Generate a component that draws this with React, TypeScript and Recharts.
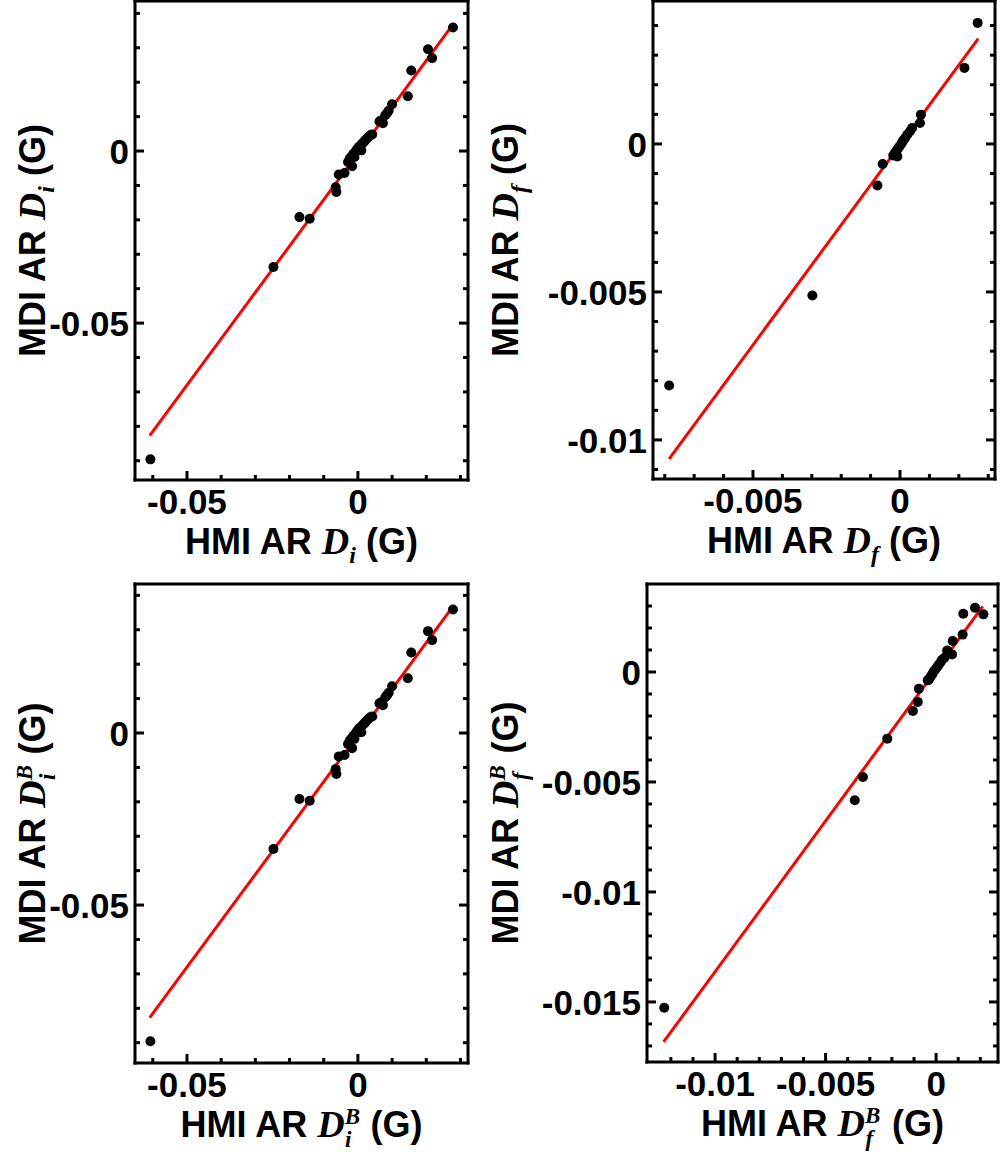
import React from 'react';
import { ScatterChart, Scatter, XAxis, YAxis, ReferenceLine } from 'recharts';

const SANS = '"Liberation Sans", Arial, Helvetica, sans-serif';
const SERIF = '"Liberation Serif", "Times New Roman", serif';

// ---------- D_i : HMI vs MDI ----------
const diHmi = [
  -0.0607, -0.0247, -0.0171, -0.0141, -0.0065, -0.0063, -0.0056, -0.0039, -0.0017,
  -0.0029, -0.0024, -0.0019, -0.0013, -0.0007, -0.0003, 0.0003, 0.0008, 0.0014,
  0.0019, 0.0023, 0.0029, 0.0036, 0.0042, 0.001, -0.001, 0.0063, 0.0068, 0.0073,
  0.008, 0.0085, 0.009, 0.01, 0.0146, 0.0156, 0.0205, 0.0217, 0.0278,
];
const diMdi = [
  -0.0896, -0.0337, -0.0192, -0.0197, -0.0105, -0.0119, -0.0068, -0.0064, -0.0044,
  -0.0032, -0.0022, -0.0016, -0.0008, -0.0002, 0.0005, 0.0012, 0.0017, 0.0023,
  0.0028, 0.0033, 0.0039, 0.0046, 0.0048, 0.0002, -0.0017, 0.0086, 0.0089, 0.0081,
  0.0104, 0.011, 0.0117, 0.0136, 0.0159, 0.0234, 0.0296, 0.027, 0.0359,
];
const diFitHmi = [-0.0609, 0.0276];
const diFitMdi = [-0.0827, 0.0365];
const diXDomain = [-0.0652, 0.0322];
const diYDomain = [-0.0956, 0.0436];

// ---------- D_f : HMI vs MDI ----------
const dfHmi = [
  -0.00785, -0.00298, -0.00077, -0.00059, -0.00023, -0.00017, -0.00011, -0.00006, 0.0,
  0.00006, 0.00011, 0.00018, 0.00025, 0.00034, 0.00041, -0.00009, 0.00068, 0.00071,
  0.00219, 0.00264,
];
const dfMdi = [
  -0.00816, -0.00512, -0.0014, -0.00068, -0.00039, -0.0003, -0.00021, -0.00014, -0.00006,
  0.00003, 0.00012, 0.00021, 0.00032, 0.00043, 0.00054, -0.00042, 0.00071, 0.00099,
  0.00257, 0.00409,
];
const dfFitHmi = [-0.00785, 0.00266];
const dfFitMdi = [-0.01064, 0.00356];
const dfXDomain = [-0.0084, 0.00323];
const dfYDomain = [-0.01132, 0.00483];

// ---------- D_i^B : HMI vs MDI ----------
const dibHmi = [
  -0.0607, -0.0247, -0.0171, -0.0141, -0.0065, -0.0063, -0.0056, -0.0039, -0.0017,
  -0.0029, -0.0024, -0.0019, -0.0013, -0.0007, -0.0003, 0.0003, 0.0008, 0.0014,
  0.0019, 0.0023, 0.0029, 0.0036, 0.0042, 0.001, -0.001, 0.0063, 0.0068, 0.0073,
  0.008, 0.0085, 0.009, 0.01, 0.0146, 0.0156, 0.0205, 0.0217, 0.0278,
];
const dibMdi = [
  -0.0896, -0.0337, -0.0192, -0.0197, -0.0105, -0.0119, -0.0068, -0.0064, -0.0044,
  -0.0032, -0.0022, -0.0016, -0.0008, -0.0002, 0.0005, 0.0012, 0.0017, 0.0023,
  0.0028, 0.0033, 0.0039, 0.0046, 0.0048, 0.0002, -0.0017, 0.0086, 0.0089, 0.0081,
  0.0104, 0.011, 0.0117, 0.0136, 0.0159, 0.0234, 0.0296, 0.027, 0.0359,
];
const dibFitHmi = [-0.0609, 0.0276];
const dibFitMdi = [-0.0827, 0.0365];
const dibXDomain = [-0.0652, 0.0322];
const dibYDomain = [-0.0959, 0.0433];

// ---------- D_f^B : HMI vs MDI ----------
const dfbHmi = [
  -0.0123, -0.00368, -0.00331, -0.00221, -0.00105, -0.00083, -0.00078, -0.00038, -0.00033,
  -0.00026, -0.00018, -0.00011, -0.00003, 0.00005, 0.00012, 0.0002, 0.00027, 0.00038,
  0.0005, 0.00072, 0.00075, 0.0012, 0.00123, 0.00176, 0.00214,
];
const dfbMdi = [
  -0.01526, -0.00583, -0.00477, -0.00303, -0.00177, -0.00136, -0.00076, -0.00038, -0.00035,
  -0.00023, -0.00011, 0.00002, 0.00012, 0.00023, 0.00033, 0.00044, 0.00056, 0.00065,
  0.00098, 0.0008, 0.00141, 0.0017, 0.00265, 0.00292, 0.00262,
];
const dfbFitHmi = [-0.01233, 0.00211];
const dfbFitMdi = [-0.01682, 0.00298];
const dfbXDomain = [-0.01308, 0.0028];
const dfbYDomain = [-0.01773, 0.004];

// ---------- tick marks ----------
const wideXTicks = [-0.06, -0.05, -0.04, -0.03, -0.02, -0.01, 0, 0.01, 0.02, 0.03];
const wideXMajor = [-0.05, 0];
const wideXLabels = ['-0.05', '0'];
const wideYTicks = [-0.09, -0.08, -0.07, -0.06, -0.05, -0.04, -0.03, -0.02, -0.01, 0, 0.01, 0.02, 0.03, 0.04];
const wideYMajor = [-0.05, 0];
const wideYLabels = ['-0.05', '0'];

const dfXTicks = [-0.008, -0.007, -0.006, -0.005, -0.004, -0.003, -0.002, -0.001, 0, 0.001, 0.002, 0.003];
const dfXMajor = [-0.005, 0];
const dfXLabels = ['-0.005', '0'];
const dfYTicks = [-0.011, -0.01, -0.009, -0.008, -0.007, -0.006, -0.005, -0.004, -0.003, -0.002, -0.001, 0, 0.001, 0.002, 0.003, 0.004];
const dfYMajor = [-0.01, -0.005, 0];
const dfYLabels = ['-0.01', '-0.005', '0'];

const dfbXTicks = [-0.012, -0.011, -0.01, -0.009, -0.008, -0.007, -0.006, -0.005, -0.004, -0.003, -0.002, -0.001, 0, 0.001, 0.002];
const dfbXMajor = [-0.01, -0.005, 0];
const dfbXLabels = ['-0.01', '-0.005', '0'];
const dfbYTicks = [-0.017, -0.016, -0.015, -0.014, -0.013, -0.012, -0.011, -0.01, -0.009, -0.008, -0.007, -0.006, -0.005, -0.004, -0.003, -0.002, -0.001, 0, 0.001, 0.002, 0.003];
const dfbYMajor = [-0.015, -0.01, -0.005, 0];
const dfbYLabels = ['-0.015', '-0.01', '-0.005', '0'];

// ---------- drawing helpers ----------
const MAJOR_LEN = 9;
const MINOR_LEN = 5;
const TICK_FONT = 35;
// every axis band is 1px thick; the frame line sits on the plot edge
const BAND = 1;

type Side = 'bottom' | 'top' | 'left' | 'right';

function makeTick(side: Side, majors: number[] = [], labels: string[] = []) {
  return (props: any) => {
    const { x, y, payload } = props;
    const i = majors.indexOf(payload.value);
    const len = i >= 0 ? MAJOR_LEN : MINOR_LEN;
    let line;
    let label = null;
    if (side === 'bottom') {
      line = <line x1={x} x2={x} y1={y} y2={y - len} stroke="#000" strokeWidth={3} />;
      if (i >= 0)
        label = (
          <text x={x} y={y + 34} textAnchor="middle" fontFamily={SANS} fontWeight="bold" fontSize={TICK_FONT} fill="#000">
            {labels[i]}
          </text>
        );
    } else if (side === 'top') {
      line = <line x1={x} x2={x} y1={y} y2={y + len} stroke="#000" strokeWidth={3} />;
    } else if (side === 'left') {
      line = <line x1={x} x2={x + len} y1={y} y2={y} stroke="#000" strokeWidth={3} />;
      if (i >= 0)
        label = (
          <text x={x - 6} y={y} dy="0.36em" textAnchor="end" fontFamily={SANS} fontWeight="bold" fontSize={TICK_FONT} fill="#000">
            {labels[i]}
          </text>
        );
    } else {
      line = <line x1={x} x2={x - len} y1={y} y2={y} stroke="#000" strokeWidth={3} />;
    }
    return (
      <g>
        {line}
        {label}
      </g>
    );
  };
}

type Sym = { sub: string; sup?: string };

function AxisTitle({ x, y, rotate, who, sym }: { x: number; y: number; rotate?: boolean; who: string; sym: Sym }) {
  const transform = rotate ? `rotate(-90 ${x} ${y})` : undefined;
  const italic = { fontFamily: SERIF, fontStyle: 'italic' as const, fontWeight: 'bold' as const };
  return (
    <text x={x} y={y} transform={transform} textAnchor="middle" fill="#000" fontFamily={SANS} fontWeight="bold" fontSize={36}>
      <tspan>{who + ' AR '}</tspan>
      <tspan {...italic} fontSize={38}>D</tspan>
      {sym.sup ? (
        <>
          <tspan {...italic} fontSize={23} dy={-13}>{sym.sup}</tspan>
          <tspan {...italic} fontSize={23} dx={-15} dy={23}>{sym.sub}</tspan>
          <tspan dx={9} dy={-10}>{' (G)'}</tspan>
        </>
      ) : (
        <>
          <tspan {...italic} fontSize={24} dy={9}>{sym.sub}</tspan>
          <tspan dy={-9}>{' (G)'}</tspan>
        </>
      )}
    </text>
  );
}

function XTitle(props: any) {
  const vb = props.viewBox || {};
  return <AxisTitle x={vb.x + vb.width / 2} y={vb.y + 74} who="HMI" sym={props.sym} />;
}

function YTitle(props: any) {
  const vb = props.viewBox || {};
  return <AxisTitle x={vb.x + vb.width - props.gap} y={vb.y + vb.height / 2} rotate who="MDI" sym={props.sym} />;
}

type PanelProps = {
  left: number;
  top: number;
  width: number;
  height: number;
  plot: { top: number; right: number; bottom: number; left: number };
  hmi: number[];
  mdi: number[];
  fitHmi: number[];
  fitMdi: number[];
  xDomain: number[];
  yDomain: number[];
  xTicks: number[];
  xMajor: number[];
  xLabels: string[];
  yTicks: number[];
  yMajor: number[];
  yLabels: string[];
  sym: Sym;
  yTitleGap: number;
};

const frame = { stroke: '#000', strokeWidth: 3, strokeLinecap: 'square' as const };

function Panel(p: PanelProps) {
  const points = p.hmi.map((v, i) => ({ x: v, y: p.mdi[i] }));
  const margin = {
    top: p.plot.top - BAND,
    right: p.plot.right - BAND,
    bottom: p.plot.bottom - BAND,
    left: p.plot.left - BAND,
  };
  return (
    <div style={{ position: 'absolute', left: p.left, top: p.top }}>
      <ScatterChart width={p.width} height={p.height} margin={margin}>
        <XAxis
          type="number"
          dataKey="x"
          domain={p.xDomain}
          allowDataOverflow
          ticks={p.xTicks}
          interval={0}
          height={BAND}
          tickSize={0}
          tickMargin={0}
          tickLine={false}
          axisLine={frame}
          tick={makeTick('bottom', p.xMajor, p.xLabels)}
          label={<XTitle sym={p.sym} />}
        />
        <XAxis
          xAxisId="top"
          orientation="top"
          type="number"
          domain={p.xDomain}
          allowDataOverflow
          ticks={p.xTicks}
          interval={0}
          height={BAND}
          tickSize={0}
          tickMargin={0}
          tickLine={false}
          axisLine={frame}
          tick={makeTick('top', p.xMajor)}
        />
        <YAxis
          type="number"
          dataKey="y"
          domain={p.yDomain}
          allowDataOverflow
          ticks={p.yTicks}
          interval={0}
          width={BAND}
          tickSize={0}
          tickMargin={0}
          tickLine={false}
          axisLine={frame}
          tick={makeTick('left', p.yMajor, p.yLabels)}
          label={<YTitle sym={p.sym} gap={p.yTitleGap} />}
        />
        <YAxis
          yAxisId="right"
          orientation="right"
          type="number"
          domain={p.yDomain}
          allowDataOverflow
          ticks={p.yTicks}
          interval={0}
          width={BAND}
          tickSize={0}
          tickMargin={0}
          tickLine={false}
          axisLine={frame}
          tick={makeTick('right', p.yMajor)}
        />
        <Scatter
          data={points}
          isAnimationActive={false}
          shape={(s: any) => <circle cx={s.cx} cy={s.cy} r={5} fill="#000" />}
        />
        <ReferenceLine
          segment={[
            { x: p.fitHmi[0], y: p.fitMdi[0] },
            { x: p.fitHmi[1], y: p.fitMdi[1] },
          ]}
          stroke="#ff0000"
          strokeWidth={3}
          ifOverflow="visible"
        />
      </ScatterChart>
    </div>
  );
}

export default function App() {
  return (
    <div style={{ position: 'absolute', left: 0, top: 0, width: 1002, height: 1154, background: '#fff' }}>
      <Panel
        left={0}
        top={0}
        width={480}
        height={577}
        plot={{ top: 1, right: 12, bottom: 97, left: 135 }}
        hmi={diHmi}
        mdi={diMdi}
        fitHmi={diFitHmi}
        fitMdi={diFitMdi}
        xDomain={diXDomain}
        yDomain={diYDomain}
        xTicks={wideXTicks}
        xMajor={wideXMajor}
        xLabels={wideXLabels}
        yTicks={wideYTicks}
        yMajor={wideYMajor}
        yLabels={wideYLabels}
        sym={{ sub: 'i' }}
        yTitleGap={90}
      />
      <Panel
        left={480}
        top={0}
        width={522}
        height={577}
        plot={{ top: 1, right: 7, bottom: 98, left: 173 }}
        hmi={dfHmi}
        mdi={dfMdi}
        fitHmi={dfFitHmi}
        fitMdi={dfFitMdi}
        xDomain={dfXDomain}
        yDomain={dfYDomain}
        xTicks={dfXTicks}
        xMajor={dfXMajor}
        xLabels={dfXLabels}
        yTicks={dfYTicks}
        yMajor={dfYMajor}
        yLabels={dfYLabels}
        sym={{ sub: 'f' }}
        yTitleGap={135}
      />
      <Panel
        left={0}
        top={577}
        width={480}
        height={577}
        plot={{ top: 7, right: 12, bottom: 91, left: 135 }}
        hmi={dibHmi}
        mdi={dibMdi}
        fitHmi={dibFitHmi}
        fitMdi={dibFitMdi}
        xDomain={dibXDomain}
        yDomain={dibYDomain}
        xTicks={wideXTicks}
        xMajor={wideXMajor}
        xLabels={wideXLabels}
        yTicks={wideYTicks}
        yMajor={wideYMajor}
        yLabels={wideYLabels}
        sym={{ sub: 'i', sup: 'B' }}
        yTitleGap={90}
      />
      <Panel
        left={480}
        top={577}
        width={522}
        height={577}
        plot={{ top: 7, right: 4, bottom: 92, left: 167 }}
        hmi={dfbHmi}
        mdi={dfbMdi}
        fitHmi={dfbFitHmi}
        fitMdi={dfbFitMdi}
        xDomain={dfbXDomain}
        yDomain={dfbYDomain}
        xTicks={dfbXTicks}
        xMajor={dfbXMajor}
        xLabels={dfbXLabels}
        yTicks={dfbYTicks}
        yMajor={dfbYMajor}
        yLabels={dfbYLabels}
        sym={{ sub: 'f', sup: 'B' }}
        yTitleGap={129}
      />
    </div>
  );
}
